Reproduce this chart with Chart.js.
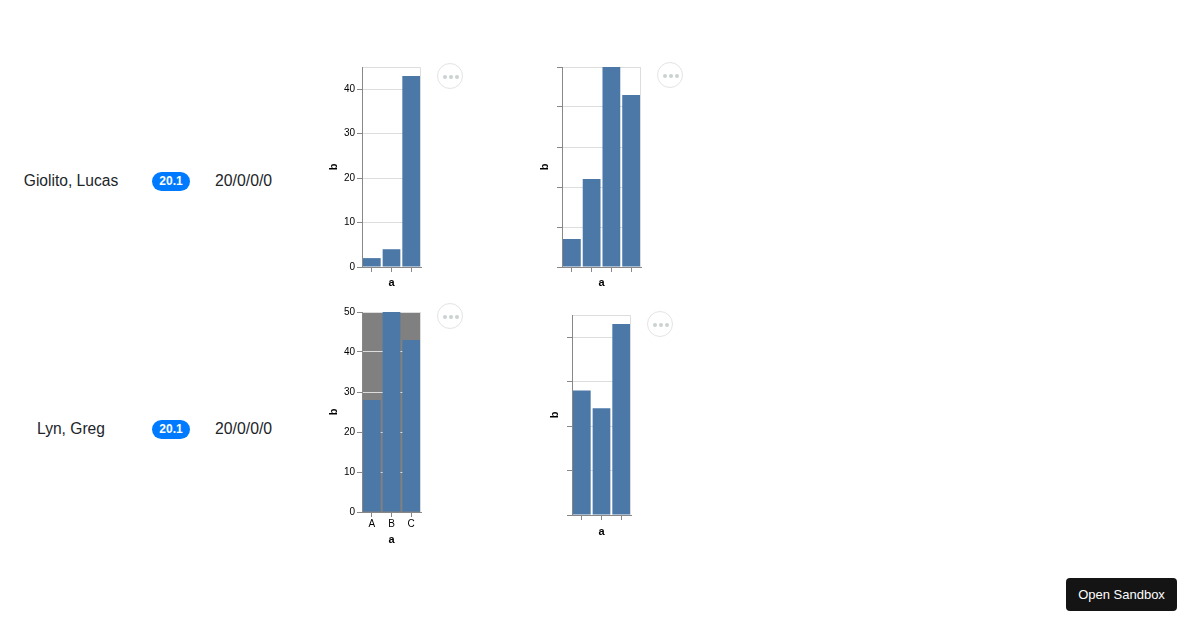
<!DOCTYPE html>
<html>
<head>
<meta charset="utf-8">
<script src="https://cdn.jsdelivr.net/npm/chart.js@4"></script>
<style>
  html, body { margin: 0; padding: 0; background: #fff; }
  body { width: 1200px; height: 630px; position: relative; overflow: hidden;
         font-family: "Liberation Sans", Arial, sans-serif; color: #212529; }
  .name { position: absolute; left: 0; width: 142px; text-align: center; font-size: 15.6px; line-height: 20px; }
  .badge { position: absolute; left: 152px; width: 38px; height: 19px; border-radius: 10px; background: #007bff;
           color: #fff; font-weight: bold; font-size: 12px; line-height: 19px; text-align: center; }
  .score { position: absolute; left: 215px; font-size: 15.8px; line-height: 20px; }
  canvas { position: absolute; }
  .menu { position: absolute; width: 26px; height: 26px; border: 1px solid #e4e4e4; border-radius: 50%; box-sizing: border-box; }
  .menu span { position: absolute; top: 11px; width: 4px; height: 4px; border-radius: 50%; background: #cbd2d2; }
  .sandbox { position: absolute; left: 1066px; top: 578px; width: 111px; height: 33px; border-radius: 4px;
             background: #141414; color: #fff; font-size: 13px; line-height: 33px; text-align: center; }
</style>
</head>
<body>
<div class="name" style="top:171px">Giolito, Lucas</div>
<div class="badge" style="top:172px">20.1</div>
<div class="score" style="top:171px">20/0/0/0</div>

<div class="name" style="top:419px">Lyn, Greg</div>
<div class="badge" style="top:420px">20.1</div>
<div class="score" style="top:419px">20/0/0/0</div>

<canvas id="c1"></canvas>
<canvas id="c2"></canvas>
<canvas id="c3"></canvas>
<canvas id="c4"></canvas>

<div class="menu" style="left:437px;top:63px"><span style="left:5px"></span><span style="left:11px"></span><span style="left:17px"></span></div>
<div class="menu" style="left:657px;top:62px"><span style="left:5px"></span><span style="left:11px"></span><span style="left:17px"></span></div>
<div class="menu" style="left:437px;top:303px"><span style="left:5px"></span><span style="left:11px"></span><span style="left:17px"></span></div>
<div class="menu" style="left:647px;top:311px"><span style="left:5px"></span><span style="left:11px"></span><span style="left:17px"></span></div>

<div class="sandbox">Open Sandbox</div>

<script>
// data
const cats1 = ['A', 'B', 'C'];
const vals1 = [2, 4, 43];
const cats2 = ['A', 'B', 'C', 'D'];
const vals2 = [7, 22, 50, 43];
const cats3 = ['A', 'B', 'C'];
const vals3 = [28, 50, 43];
const cats4 = ['A', 'B', 'C'];
const vals4 = [28, 24, 43];
const yMax1 = 45, yMax2 = 50, yMax3 = 50, yMax4 = 45;
const yStep = 10;

Chart.defaults.font.family = '"Liberation Sans", Arial, sans-serif';
Chart.defaults.animation = false;

const barColor = '#4c78a8';

// draws light frame (and optional fill) behind the plot
const framePlugin = {
  id: 'frame',
  beforeDraw(chart, args, opts) {
    const a = chart.chartArea, ctx = chart.ctx;
    ctx.save();
    if (opts.fill) { ctx.fillStyle = opts.fill; ctx.fillRect(a.left, a.top, a.right - a.left, a.bottom - a.top); }
    ctx.strokeStyle = '#ddd';
    ctx.lineWidth = 1;
    ctx.beginPath();
    ctx.moveTo(a.left, Math.round(a.top) + 0.5);
    ctx.lineTo(Math.round(a.right) - 0.5, Math.round(a.top) + 0.5);
    ctx.lineTo(Math.round(a.right) - 0.5, a.bottom);
    ctx.stroke();
    ctx.restore();
  }
};

function drawBars(id, box, cats, vals, yMax, cfg) {
  const cv = document.getElementById(id);
  const left = Math.round(box.yTitleX - 10.6);
  const top = box.top - 10;
  const right = box.right + 10;
  const bottom = Math.round(box.xTitleY + 12.6);
  cv.width = right - left; cv.height = bottom - top;
  cv.style.left = left + 'px'; cv.style.top = top + 'px';
  const yW = box.left - left;
  const xH = bottom - box.bottom;

  new Chart(cv, {
    type: 'bar',
    data: { labels: cats, datasets: [{ data: vals, backgroundColor: barColor, barPercentage: 0.9, categoryPercentage: 1 }] },
    options: {
      responsive: false,
      layout: { padding: { top: 10, right: 10, left: 0, bottom: 0 } },
      plugins: { legend: { display: false }, tooltip: { enabled: false }, frame: { fill: cfg.fill || null } },
      scales: {
        x: {
          offset: true,
          grid: { display: true, drawOnChartArea: false, offset: false, tickLength: 5, tickColor: '#888' },
          border: { color: '#888' },
          ticks: { display: !!cfg.xLabels, color: '#000', font: { size: 10 }, padding: 1 },
          title: { display: true, text: 'a', color: '#000', font: { size: 11, weight: 'bold' }, padding: { top: 4, bottom: 6 } },
          afterFit(s) { s.height = xH; }
        },
        y: {
          min: 0, max: yMax,
          grid: { color: '#ddd', tickLength: 5, tickColor: '#888' },
          border: { color: '#888' },
          ticks: { display: !!cfg.yLabels, stepSize: yStep, includeBounds: false, color: '#000', font: { size: 10 }, padding: 2 },
          title: { display: true, text: 'b', color: '#000', font: { size: 11, weight: 'bold' }, padding: { top: 4, bottom: 6 } },
          afterFit(s) { s.width = yW; }
        }
      }
    },
    plugins: [framePlugin]
  });
}

drawBars('c1', { left: 362, right: 421, top: 67, bottom: 267, yTitleX: 333.5, xTitleY: 283.5 }, cats1, vals1, yMax1, { yLabels: true });
drawBars('c2', { left: 562, right: 641, top: 67, bottom: 267, yTitleX: 545, xTitleY: 283.5 }, cats2, vals2, yMax2, {});
drawBars('c3', { left: 362, right: 421, top: 312, bottom: 512, yTitleX: 333.5, xTitleY: 540 }, cats3, vals3, yMax3, { yLabels: true, xLabels: true, fill: '#808080' });
drawBars('c4', { left: 572, right: 631, top: 315, bottom: 515, yTitleX: 555, xTitleY: 532 }, cats4, vals4, yMax4, {});
</script>
</body>
</html>
